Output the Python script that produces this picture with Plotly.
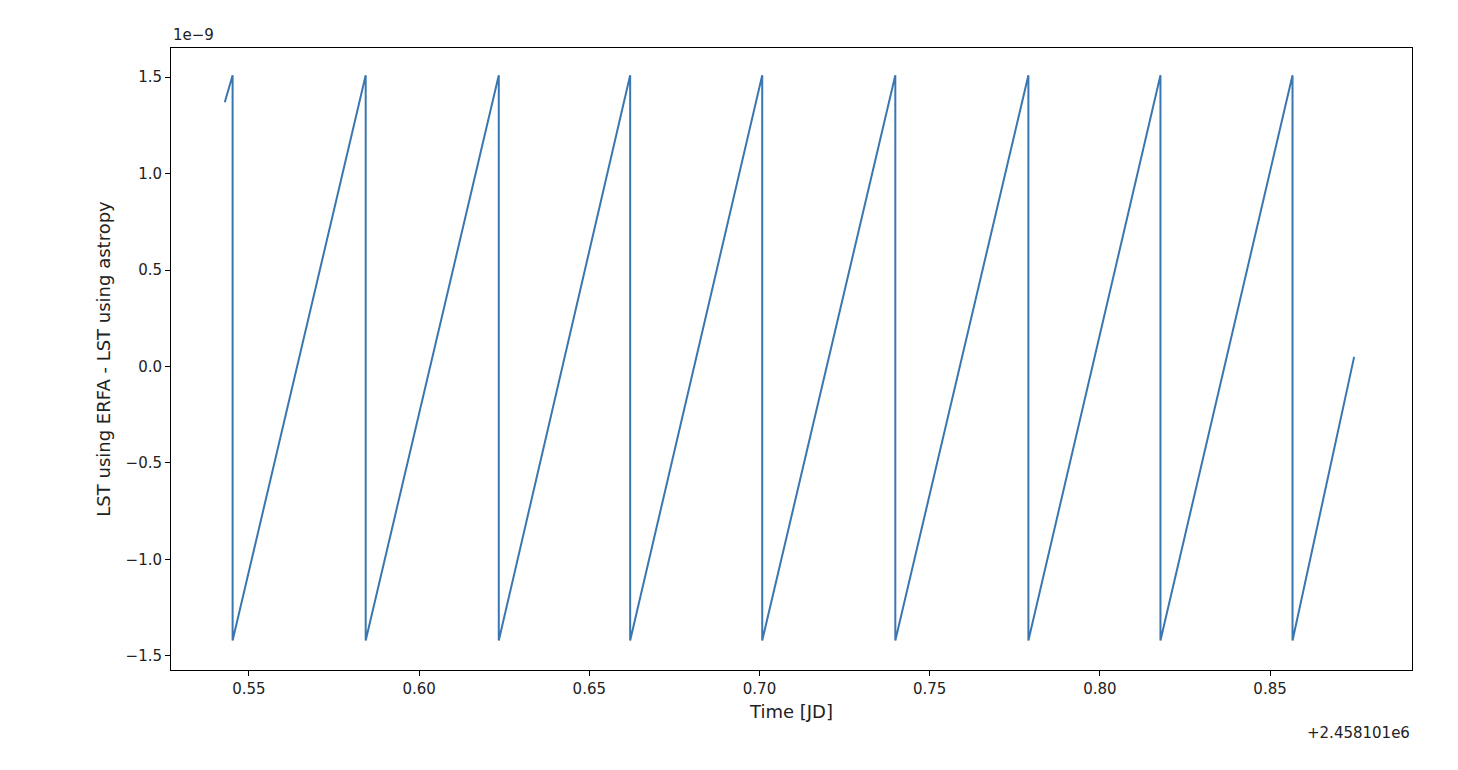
import plotly.graph_objects as go

# offsets shown as text on the axes
x_offset_label = "+2.458101e6"
y_scale_label = "1e\u22129"

# time relative to 2458101 JD, LST difference in units of 1e-9
time_jd = [0.5429, 0.5452, 0.5452, 0.5843, 0.5843, 0.6234, 0.6234, 0.6620, 0.6620,
           0.7008, 0.7008, 0.7399, 0.7399, 0.7790, 0.7790, 0.8178, 0.8178,
           0.8566, 0.8566, 0.8747]
lst_diff = [1.37, 1.51, -1.42, 1.51, -1.42, 1.51, -1.42, 1.51, -1.42,
            1.51, -1.42, 1.51, -1.42, 1.51, -1.42, 1.51, -1.42,
            1.51, -1.42, 0.05]
x_ticks = [0.55, 0.60, 0.65, 0.70, 0.75, 0.80, 0.85]
y_ticks = [-1.5, -1.0, -0.5, 0.0, 0.5, 1.0, 1.5]

fig = go.Figure(go.Scatter(x=time_jd, y=lst_diff, mode='lines',
                           line=dict(color='#3a76af', width=2)))

axis_style = dict(showline=True, linecolor='black', linewidth=1, mirror=True,
                  ticks='outside', ticklen=5, tickcolor='black',
                  showgrid=False, zeroline=False)

fig.update_layout(
    width=1458, height=770,
    margin=dict(l=163, r=54, t=40, b=108),
    plot_bgcolor='white', paper_bgcolor='white',
    font=dict(family='DejaVu Sans', size=15, color='#222'),
    showlegend=False,
    xaxis=dict(range=[0.5271, 0.8917], tickvals=x_ticks,
               ticktext=[f'{v:.2f}' for v in x_ticks],
               title=dict(text='Time [JD]', standoff=8), **axis_style),
    yaxis=dict(range=[-1.573, 1.651], tickvals=y_ticks,
               ticktext=[f'{v:.1f}'.replace('-', '\u2212') for v in y_ticks],
               title=dict(text='LST using ERFA - LST using astropy', standoff=10),
               **axis_style),
    annotations=[
        dict(text=y_scale_label, xref='paper', yref='paper', x=0, y=1,
             xanchor='left', yanchor='bottom', showarrow=False, yshift=2),
        dict(text=x_offset_label, xref='paper', yref='paper', x=1, y=0,
             xanchor='right', yanchor='top', showarrow=False, yshift=-52),
    ],
)

fig.write_html("out.html")
